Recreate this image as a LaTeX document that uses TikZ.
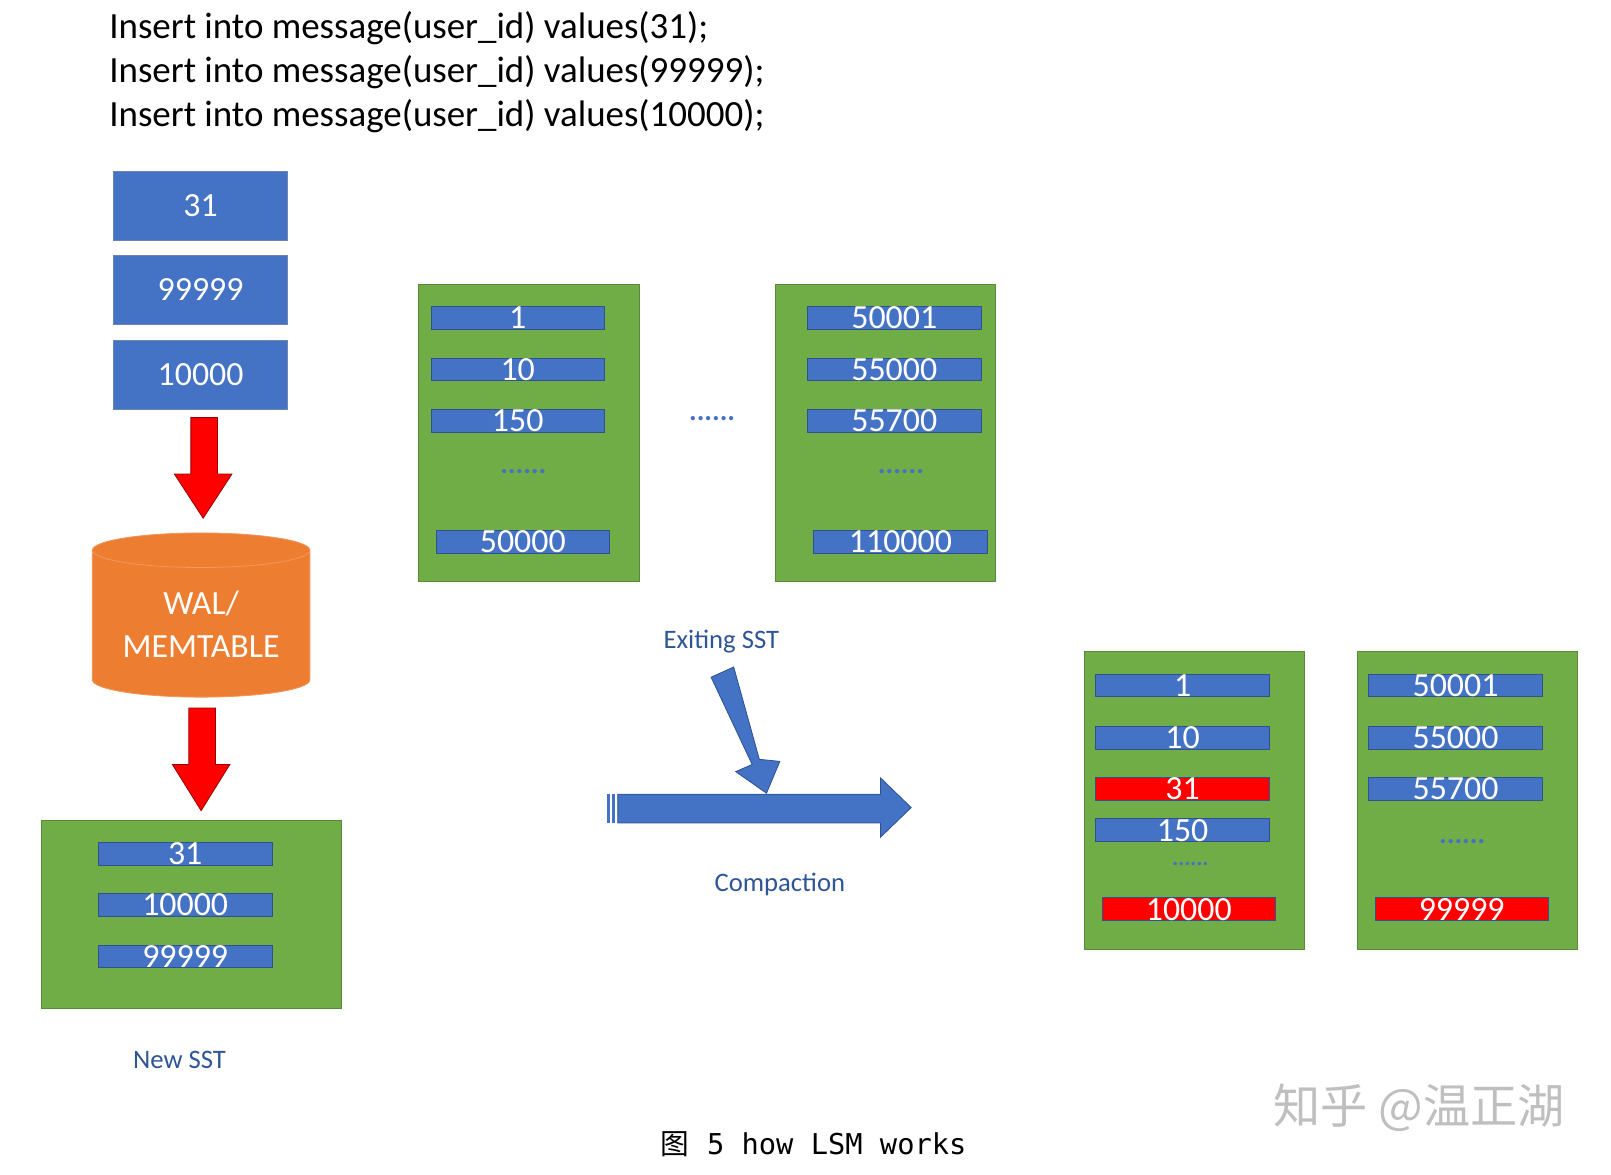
\documentclass[tikz,border=0pt]{standalone}
\usepackage{fontspec}
\setmainfont{Carlito}
\newfontfamily\cjk{Noto Sans CJK SC}
\newfontfamily\mono{DejaVu Sans Mono}
\usetikzlibrary{shapes.geometric,arrows.meta}
\definecolor{blu}{HTML}{4472C4}
\definecolor{grn}{HTML}{70AD47}
\definecolor{org}{HTML}{ED7D31}
\definecolor{lbl}{HTML}{2F5597}
\definecolor{dblu}{HTML}{2F528F}
\newcommand\mybar[5]{%
  \node[bar,fill=#5] (#1) at (#2,#3) {};
  \node[bartxt] at (#1) {#4};}
\begin{document}
\begin{tikzpicture}[x=1pt,y=-1pt,
  bar/.style={draw=dblu,line width=0.8pt,fill=blu,minimum width=169pt,minimum height=22pt,inner sep=0pt},
  bartxt/.style={text=white,font=\fontsize{33}{34}\selectfont,inner sep=0pt},
  sst/.style={fill=grn,draw=grn!80!black,line width=0.8pt},
  inbox/.style={fill=blu,draw=dblu!70,line width=0.8pt,minimum width=169pt,minimum height=67pt,text=white,font=\fontsize{33}{36}\selectfont},
  redarr/.style={fill=red,draw=red!60!black,line width=0.8pt},
  lab/.style={text=lbl,font=\fontsize{26}{28}\selectfont},
  dots/.style={text=blu,font=\bfseries\fontsize{28}{28}\selectfont}]
\useasboundingbox (0,0) rectangle (1570,1145);
% SQL
\node[anchor=west,font=\fontsize{36}{38}\selectfont] (q1) at (103,27) {Insert into message(user\_id) values(31);};
\node[anchor=west,font=\fontsize{36}{38}\selectfont] (q2) at (103,70) {Insert into message(user\_id) values(99999);};
\node[anchor=west,font=\fontsize{36}{38}\selectfont] (q3) at (103,113) {Insert into message(user\_id) values(10000);};
% input boxes
\node[inbox] (i1) at (195.5,200.5) {31};
\node[inbox] (i2) at (195.5,282.5) {99999};
\node[inbox] (i3) at (195.5,365.5) {10000};
% red arrow 1
\draw[redarr] (186,407) -- (212,407) -- (212,462) -- (226,462) -- (198,505) -- (170,462) -- (186,462) -- cycle;
% cylinder
\node[cylinder,shape border rotate=90,aspect=0.22,fill=org,draw=org!80!white,line width=0.8pt,minimum width=212pt,minimum height=160pt,inner sep=0pt,text=white,align=center,font=\fontsize{33}{42}\selectfont] (wal) at (196,608) {WAL/\\MEMTABLE};
% red arrow 2
\draw[redarr] (184,690) -- (210,690) -- (210,745) -- (224,745) -- (196,790) -- (168,745) -- (184,745) -- cycle;
% New SST
\draw[sst] (40,800) rectangle (333,983);
\mybar{n1}{180.5}{832}{31}{blu}
\mybar{n2}{180.5}{882}{10000}{blu}
\mybar{n3}{180.5}{932}{99999}{blu}
\node[lab] (newsst) at (175,1033) {New SST};
% Existing SST 1
\draw[sst] (408,277) rectangle (623,567);
\mybar{a1}{504.5}{310}{1}{blu}
\mybar{a2}{504.5}{360}{10}{blu}
\mybar{a3}{504.5}{410}{150}{blu}
\node[dots] (ad) at (510,460) {......};
\mybar{a4}{509.5}{528}{50000}{blu}
\node[dots] (md) at (694,408) {......};
% Existing SST 2
\draw[sst] (756,277) rectangle (970,567);
\mybar{b1}{871.5}{310}{50001}{blu}
\mybar{b2}{871.5}{360}{55000}{blu}
\mybar{b3}{871.5}{410}{55700}{blu}
\node[dots] (bd) at (878,460) {......};
\mybar{b4}{877.5}{528}{110000}{blu}
\node[lab] (exist) at (703,625) {Exiting SST};
% diagonal arrow
\fill[blu,draw=dblu,line width=0.8pt] (693,660) -- (715,650) -- (740,740) -- (760,742) -- (747,773) -- (717,752) -- (733,745) -- cycle;
% horizontal arrow
\fill[blu,draw=dblu,line width=0.8pt] (602,774) -- (858,774) -- (858,758) -- (888,787) -- (858,816) -- (858,802) -- (602,802) -- cycle;
\fill[blu] (592,774) rectangle (594,802);
\fill[blu] (596,774) rectangle (599,802);
\node[lab] (comp) at (760,862) {Compaction};
% Result SST 1
\draw[sst] (1057,635) rectangle (1271,925);
\mybar{c1}{1152.5}{668}{1}{blu}
\mybar{c2}{1152.5}{719}{10}{blu}
\mybar{c3}{1152.5}{769}{31}{red}
\mybar{c4}{1152.5}{809}{150}{blu}
\node[dots,font=\bfseries\fontsize{22}{24}\selectfont] (cd) at (1160,842) {......};
\mybar{c5}{1158.5}{886}{10000}{red}
% Result SST 2
\draw[sst] (1323,635) rectangle (1537,925);
\mybar{e1}{1418.5}{668}{50001}{blu}
\mybar{e2}{1418.5}{719}{55000}{blu}
\mybar{e3}{1418.5}{769}{55700}{blu}
\node[dots] (ed) at (1425,820) {......};
\mybar{e4}{1424.5}{886}{99999}{red}
% caption & watermark
\node[font=\fontsize{28}{32}\selectfont] (cap) at (793,1115) {{\cjk 图}\mono\ 5 how LSM works};
\node[text=gray!50,font=\cjk\fontsize{46}{50}\selectfont] (wm) at (1383,1080) {知乎 @温正湖};
\end{tikzpicture}
\end{document}
